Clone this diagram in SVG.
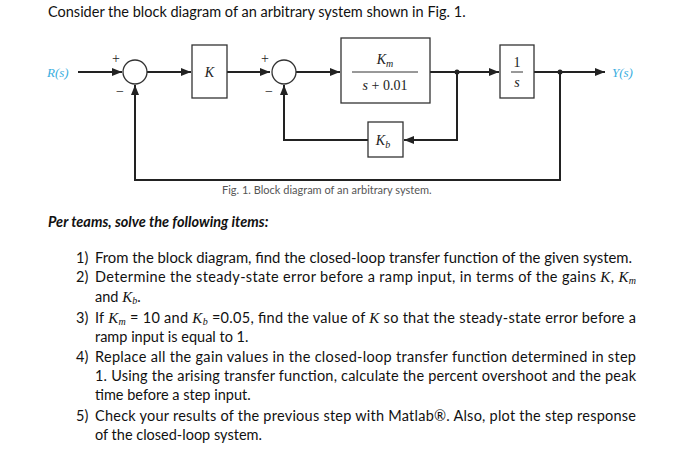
<svg xmlns="http://www.w3.org/2000/svg" width="691" height="463" viewBox="0 0 691 463">
<defs>
<marker id="ah" markerWidth="10" markerHeight="8" refX="10" refY="4" orient="auto" markerUnits="userSpaceOnUse"><path d="M0,0 L10,4 L0,8 Z" fill="#222"/></marker>
<style>
.blk{fill:#fff;stroke:#333;stroke-width:1.3}
.ln{fill:none;stroke:#222;stroke-width:2}
.m{font-family:"Liberation Serif",serif;font-size:14px;fill:#222}
.mi{font-family:"Liberation Serif",serif;font-style:italic;font-size:14px;fill:#222}
.sig{font-family:"Liberation Serif",serif;font-style:italic;font-size:13px;fill:#3aaee0}
.t{font-family:Lato,"Open Sans",sans-serif;font-size:14.5px;fill:#111}
.ti{font-family:"Liberation Serif",serif;font-style:italic;font-size:15px;fill:#111}
</style>
</defs>
<rect width="691" height="463" fill="#fff"/>
<text class="t" x="48" y="17">Consider the block diagram of an arbitrary system shown in Fig. 1.</text>
<g id="connectors">
<path class="ln" d="M78,72 H122" marker-end="url(#ah)"/>
<path class="ln" d="M147,72 H191" marker-end="url(#ah)"/>
<path class="ln" d="M227,72 H270" marker-end="url(#ah)"/>
<path class="ln" d="M295,72 H340" marker-end="url(#ah)"/>
<path class="ln" d="M430,72 H499" marker-end="url(#ah)"/>
<path class="ln" d="M534,72 H605" marker-end="url(#ah)"/>
<path class="ln" d="M457,72 V140 H404" marker-end="url(#ah)"/>
<path class="ln" d="M368,140 H284 V85" marker-end="url(#ah)"/>
<path class="ln" d="M560,72 V180 H135 V85" marker-end="url(#ah)"/>
<circle cx="457" cy="72" r="2.5" fill="#222"/>
<circle cx="560" cy="72" r="2.5" fill="#222"/>
</g>
<g id="R"><text class="sig" x="47" y="77">R(s)</text></g>
<g id="sum1"><circle cx="135" cy="72" r="12" fill="#fff" stroke="#333" stroke-width="1.3"/><text class="m" x="112" y="63">+</text><text class="m" x="116" y="96">−</text></g>
<g id="K"><rect class="blk" x="192" y="45" width="35" height="53"/><text class="mi" x="209.5" y="77" text-anchor="middle">K</text></g>
<g id="sum2"><circle cx="284" cy="72" r="12" fill="#fff" stroke="#333" stroke-width="1.3"/><text class="m" x="261" y="63">+</text><text class="m" x="265" y="96">−</text></g>
<g id="G"><rect class="blk" x="341" y="38" width="89" height="65"/><text class="mi" x="385" y="64" text-anchor="middle">K<tspan font-size="10" dy="3">m</tspan></text><line x1="352" y1="72" x2="418" y2="72" stroke="#333" stroke-width="1"/><text class="m" x="385" y="90" text-anchor="middle"><tspan font-style="italic">s</tspan> + 0.01</text></g>
<g id="Kb"><rect class="blk" x="368" y="122" width="35" height="35"/><text class="mi" x="383" y="145" text-anchor="middle">K<tspan font-size="10" dy="3">b</tspan></text></g>
<g id="I"><rect class="blk" x="500" y="45" width="34" height="53"/><text class="m" x="517" y="67" text-anchor="middle" font-size="12">1</text><line x1="511" y1="72" x2="523" y2="72" stroke="#333" stroke-width="1"/><text class="mi" x="517" y="87" text-anchor="middle" font-size="12">s</text></g>
<g id="Y"><text class="sig" x="612" y="77">Y(s)</text></g>
<text x="222" y="194" font-family="Lato,'Open Sans',sans-serif" font-size="11" fill="#555">Fig. 1. Block diagram of an arbitrary system.</text>
<text x="48" y="227" font-family="Lato,'Open Sans',sans-serif" font-size="14.5" font-weight="bold" font-style="italic" fill="#111">Per teams, solve the following items:</text>
<g class="t">
<text class="t" x="76" y="263">1)</text>
<text class="t" x="95" y="263" textLength="537" lengthAdjust="spacingAndGlyphs">From the block diagram, find the closed-loop transfer function of the given system.</text>
<text class="t" x="76" y="282">2)</text>
<text class="t" x="95" y="282" textLength="541" lengthAdjust="spacing">Determine the steady-state error before a ramp input, in terms of the gains <tspan class="ti">K</tspan>, <tspan class="ti">K<tspan font-size="10" dy="2">m</tspan></tspan></text>
<text class="t" x="95" y="302">and <tspan class="ti">K<tspan font-size="10" dy="2">b</tspan></tspan><tspan dy="-2">.</tspan></text>
<text class="t" x="76" y="323">3)</text>
<text class="t" x="95" y="323" textLength="541" lengthAdjust="spacing">If <tspan class="ti">K<tspan font-size="10" dy="2">m</tspan></tspan><tspan dy="-2"> = 10 and </tspan><tspan class="ti">K<tspan font-size="10" dy="2">b</tspan></tspan><tspan dy="-2"> =0.05, find the value of </tspan><tspan class="ti">K</tspan> so that the steady-state error before a</text>
<text class="t" x="95" y="342">ramp input is equal to 1.</text>
<text class="t" x="76" y="362">4)</text>
<text class="t" x="95" y="362" textLength="541" lengthAdjust="spacing">Replace all the gain values in the closed-loop transfer function determined in step</text>
<text class="t" x="95" y="381" textLength="541" lengthAdjust="spacing">1. Using the arising transfer function, calculate the percent overshoot and the peak</text>
<text class="t" x="95" y="400">time before a step input.</text>
<text class="t" x="76" y="421">5)</text>
<text class="t" x="95" y="421" textLength="541" lengthAdjust="spacing">Check your results of the previous step with Matlab®. Also, plot the step response</text>
<text class="t" x="95" y="440">of the closed-loop system.</text>
</g>
</svg>
